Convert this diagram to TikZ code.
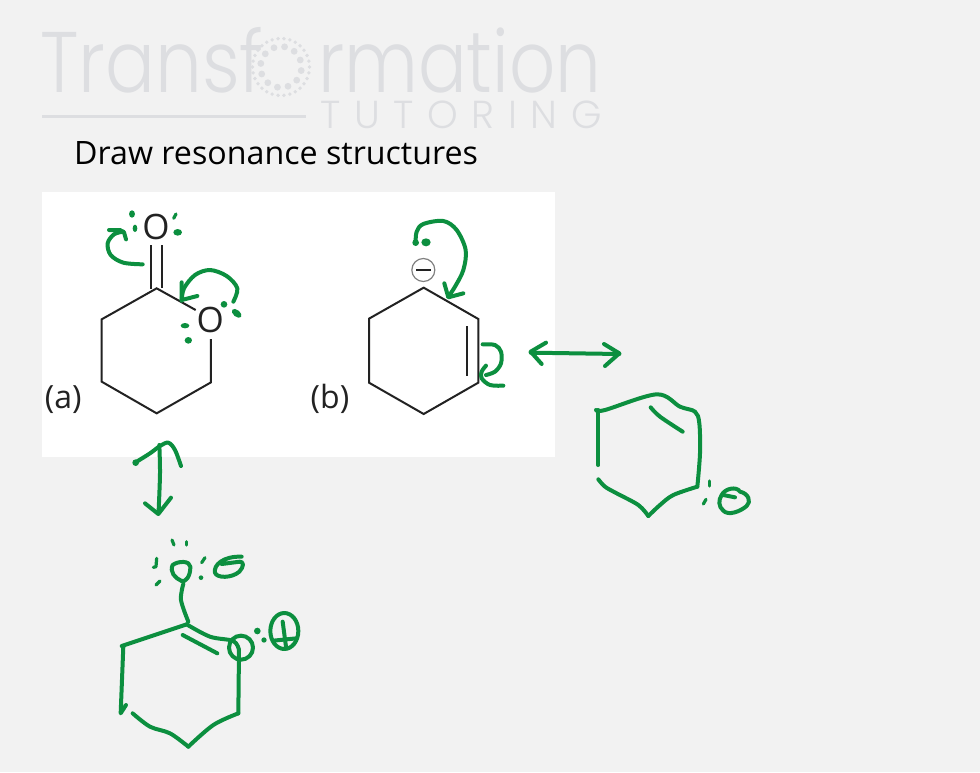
\documentclass[tikz,border=0pt]{standalone}
\usepackage{fontspec}
\usepackage{graphicx}
\setmainfont{Open Sans}
\newfontfamily\wmfont{Poppins Light}
\newfontfamily\wmspaced[LetterSpace=35]{Poppins Light}
\usetikzlibrary{calc}
\definecolor{inkgreen}{HTML}{0C8F3F}
\definecolor{bgrey}{HTML}{F2F2F2}
\definecolor{wmgrey}{HTML}{DDDEE1}
\definecolor{bondc}{HTML}{222222}
\tikzset{
  ink/.style={draw=inkgreen,line width=4pt,line cap=round,line join=round},
  thinink/.style={draw=inkgreen,line width=3.2pt,line cap=round,line join=round},
  inkdot/.style={fill=inkgreen,draw=none},
  bond/.style={draw=bondc,line width=2pt,line join=miter},
  atom/.style={font=\fontsize{35}{35}\selectfont,text=bondc,inner sep=0pt},
  plabel/.style={font=\fontsize{32}{32}\selectfont,text=bondc,inner sep=0pt},
  wm/.style={font=\wmfont\fontsize{86}{86}\selectfont,text=wmgrey,inner sep=0pt,anchor=base west},
  wmsmall/.style={font=\wmspaced\fontsize{39}{39}\selectfont,text=wmgrey,inner sep=0pt,anchor=base west},
  zoomA/.style={shift={(40,190)},scale=0.33333},
  zoomB/.style={shift={(300,200)},scale=0.33333},
  zoomC/.style={shift={(100,430)},scale=0.33333},
  zoomD/.style={shift={(580,380)},scale=0.33333},
}
\newcommand{\inkline}[2][ink]{\draw[#1] plot[smooth,tension=.55] coordinates {#2};}
\begin{document}
\begin{tikzpicture}[x=1pt,y=-1pt]
\useasboundingbox (0,0) rectangle (980,772);
\fill[bgrey] (0,0) rectangle (980,772);
% watermark
\node[wm] (wmA) at (40,92) {\scalebox{0.86}[1]{Transf}};
\node[wm] (wmB) at (318,92) {\scalebox{0.84}[1]{rmation}};
\node[wmsmall] (wmC) at (320,128) {TUTORING};
\draw[wmgrey,line width=3pt] (42,116) -- (306,116);
\foreach \a in {0,12,...,348}{
  \fill[wmgrey] ($(281,67)+(\a:28.5)$) circle (1.9);
}
\foreach \a in {0,30,...,330}{
  \fill[wmgrey] ($(281,67)+(\a+10:20.5)$) circle (3.4);
}
% title
\node[font=\fontsize{32.2}{32.2}\selectfont,text=black,inner sep=0pt,anchor=base west] (title) at (74,164) {Draw resonance structures};
% panel
\fill[white] (42,192) rectangle (555,457);

% ---- (a)
\begin{scope}[zoomA]
\node[atom] (oa) at (348,110) {O};
\node[atom] (ob) at (511,390) {O};
\node[plabel] (la) at (70,628) {(a)};
\draw[bond] (467,360) -- (350,295) -- (185,388) -- (185,575) -- (350,670) -- (513,577) -- (513,447);
\draw[bond] (332,165) -- (332,298);
\draw[bond] (365,165) -- (365,295);
\inkline{(308,223)(250,218)(212,195)(203,160)(222,133)(250,125)}
\draw[ink] (207,120) -- (240,120) -- (252,127) -- (258,148);
\inkline{(580,335)(592,295)(560,258)(510,240)(465,255)(432,295)(425,332)}
\draw[ink] (425,277) -- (425,330) -- (472,318);
\fill[inkdot] (276,72) ellipse (9 and 11);
\fill[inkdot] (285,115) ellipse (7 and 11);
\draw[thinink] (408,72) -- (401,85);
\fill[inkdot] (413,127) ellipse (13 and 10);
\fill[inkdot] (552,343) circle (10);
\fill[inkdot,rotate around={-40:(590,370)}] (590,370) ellipse (17 and 10);
\fill[inkdot] (435,407) ellipse (13 and 8);
\fill[inkdot] (445,451) ellipse (11 and 10);
\end{scope}

% ---- (b)
\begin{scope}[zoomB]
\node[plabel] (lb) at (90,598) {(b)};
\draw[bond] (371,263) -- (535,357) -- (535,548) -- (371,642) -- (207,548) -- (207,356) -- cycle;
\draw[bond] (501,378) -- (501,527);
\node[circle,draw=gray,line width=1.2pt,minimum size=23pt,inner sep=0pt] (minus) at (370,210) {};
\draw[draw=bondc,line width=1.5pt] (348,210) -- (392,210);
\inkline{(347,128)(350,95)(370,72)(430,63)(470,90)(497,150)(490,210)(465,260)(445,290)}
\draw[ink] (433,250) -- (445,292) -- (490,280);
\fill[inkdot] (347,128) circle (10);
\fill[inkdot] (378,127) ellipse (14 and 12);
\inkline{(548,433)(585,435)(603,455)(603,490)(585,515)(558,525)}
\inkline{(610,557)(570,555)(545,535)(545,515)(558,497)}
\draw[ink] (692,458) -- (958,462);
\draw[ink] (738,428) -- (692,455) -- (725,492);
\draw[ink] (912,432) -- (958,460) -- (915,498);
\end{scope}

% ---- lower left structure
\begin{scope}[zoomC]
\inkline{(105,98)(150,70)(180,48)(205,38)(225,60)(243,108)}
\inkline{(178,45)(180,130)(176,240)}
\draw[ink] (135,220) -- (175,252) -- (213,203);
\fill[inkdot] (107,98) circle (10);
\draw[ink] (218,405) .. controls (235,392) and (270,392) .. (271,410) .. controls (272,440) and (255,458) .. (245,453) .. controls (225,445) and (208,425) .. (218,405) -- cycle;
\inkline{(250,462)(243,510)(265,575)}
\draw[ink] (65,648) -- (260,583);
\inkline{(260,583)(330,620)(400,633)(417,660)}
\draw[ink] (417,660) -- (415,850);
\inkline{(415,850)(340,885)(265,950)}
\inkline{(265,950)(210,910)(150,890)(98,850)}
\draw[ink] (78,825) -- (62,850) -- (70,648);
\draw[ink] (248,615) -- (352,670);
\draw[ink] (423,653) circle (36);
\fill[inkdot] (472,603) circle (10);
\fill[inkdot] (492,630) circle (8);
\draw[ink] (553,603) ellipse (42 and 54);
\draw[ink] (548,575) -- (558,650);
\draw[ink] (520,632) -- (590,625);
\draw[ink] (425,380) .. controls (370,378) and (340,405) .. (345,428) .. controls (350,445) and (395,445) .. (418,425) .. controls (432,410) and (432,395) .. (420,395) -- (365,402);
\draw[thinink] (216,330) -- (222,345);
\draw[thinink] (260,335) -- (260,345);
\draw[thinink] (170,385) -- (168,410) -- (160,412);
\draw[thinink] (180,453) -- (168,465);
\draw[thinink] (315,383) -- (305,398);
\fill[inkdot] (303,443) circle (7);
\end{scope}

% ---- right structure
\begin{scope}[zoomD]
\inkline{(48,90)(75,90)(230,43)(300,80)(345,95)(358,130)(360,220)(352,320)}
\inkline{(352,320)(280,345)(240,375)(205,408)}
\inkline{(205,408)(175,375)(110,340)(75,320)(55,298)}
\draw[ink] (55,90) -- (55,255);
\inkline{(212,82)(240,110)(308,155)}
\draw[thinink] (388,303) -- (388,318);
\draw[thinink] (378,358) -- (370,372);
\draw[ink] (425,345) .. controls (435,325) and (470,318) .. (480,335) .. controls (505,340) and (515,365) .. (500,378) .. controls (480,395) and (445,408) .. (430,392) .. controls (415,380) and (415,360) .. (425,345) -- cycle;
\draw[ink] (430,345) -- (465,352);
\end{scope}
\end{tikzpicture}
\end{document}
